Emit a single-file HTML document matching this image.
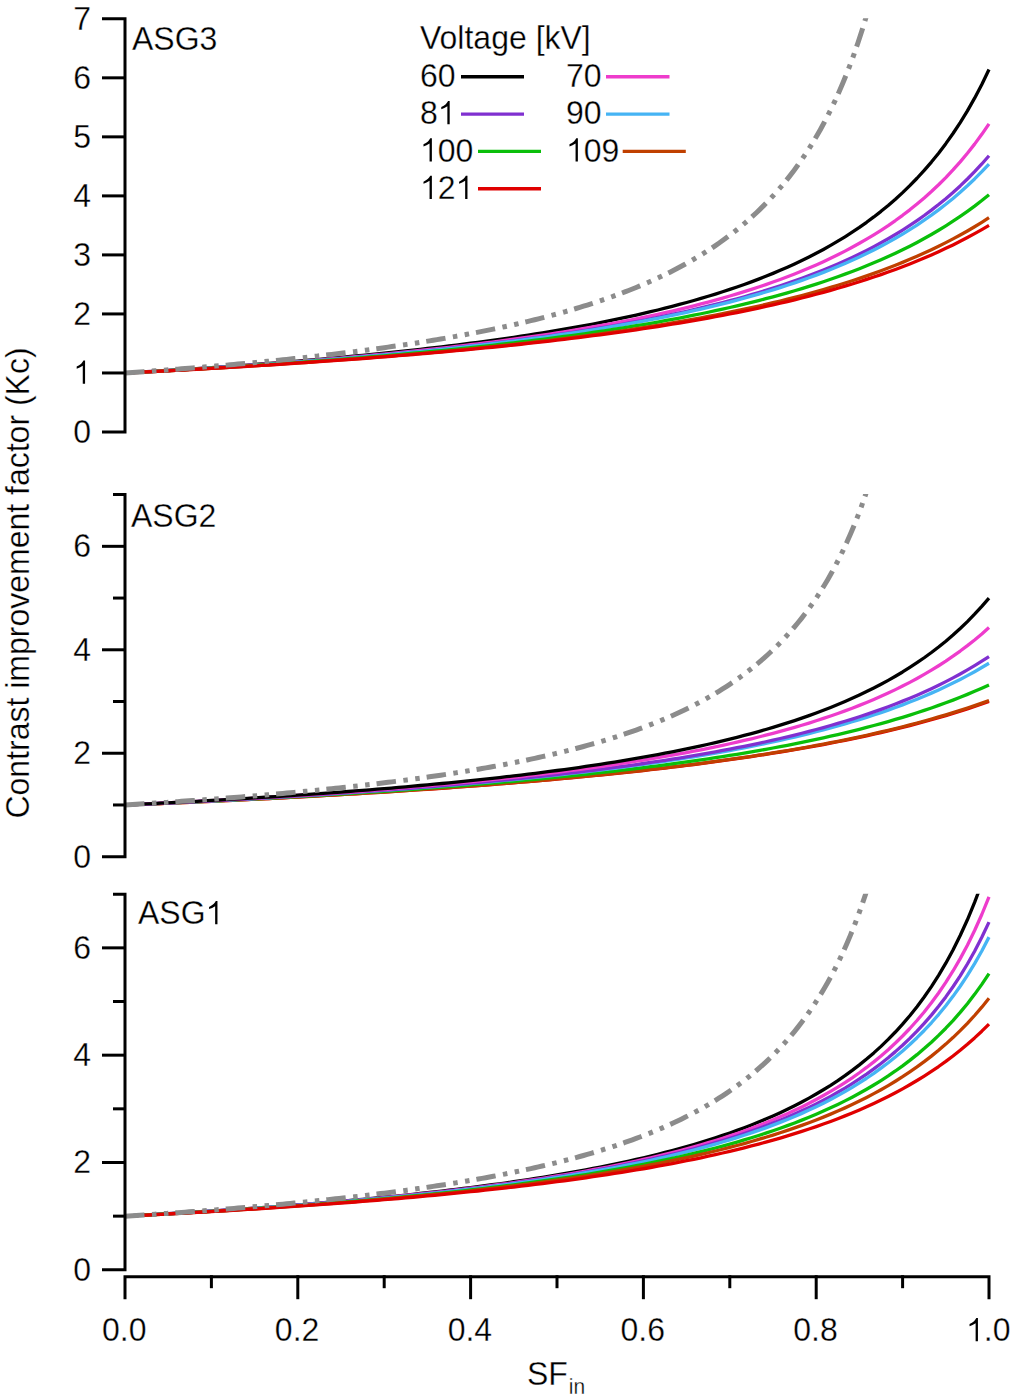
<!DOCTYPE html><html><head><meta charset="utf-8"><style>html,body{margin:0;padding:0;background:#fff;}svg{display:block;}text{font-family:"Liberation Sans",sans-serif;fill:#000;stroke:#fff;stroke-width:0.3px;}</style></head><body>
<svg width="1015" height="1397" viewBox="0 0 1015 1397">
<rect x="0" y="0" width="1015" height="1397" fill="#fff"/>
<defs><clipPath id="c0"><rect x="125.0" y="18.30" width="867.0" height="453.20"/></clipPath><clipPath id="c1"><rect x="125.0" y="494.10" width="867.0" height="402.10"/></clipPath><clipPath id="c2"><rect x="125.0" y="893.70" width="867.0" height="415.60"/></clipPath></defs>
<g clip-path="url(#c0)" fill="none" stroke-linejoin="round">
<path d="M125.00,372.97 L132.20,372.56 L139.40,372.14 L146.60,371.71 L153.80,371.28 L161.00,370.84 L168.20,370.39 L175.40,369.94 L182.60,369.48 L189.80,369.02 L197.00,368.54 L204.20,368.07 L211.40,367.58 L218.60,367.08 L225.80,366.58 L233.00,366.07 L240.20,365.55 L247.40,365.03 L254.60,364.49 L261.80,363.95 L269.00,363.40 L276.20,362.84 L283.40,362.27 L290.60,361.69 L297.80,361.10 L305.00,360.50 L312.20,359.89 L319.40,359.27 L326.60,358.64 L333.80,358.00 L341.00,357.35 L348.20,356.68 L355.40,356.01 L362.60,355.32 L369.80,354.62 L377.00,353.90 L384.20,353.18 L391.40,352.43 L398.60,351.68 L405.80,350.91 L413.00,350.12 L420.20,349.32 L427.40,348.51 L434.60,347.68 L441.80,346.83 L449.00,345.96 L456.20,345.08 L463.40,344.18 L470.60,343.25 L477.80,342.31 L485.00,341.35 L492.20,340.37 L499.40,339.37 L506.60,338.34 L513.80,337.30 L521.00,336.22 L528.20,335.13 L535.40,334.00 L542.60,332.86 L549.80,331.68 L557.00,330.48 L564.20,329.24 L571.40,327.98 L578.60,326.69 L585.80,325.36 L593.00,324.00 L600.20,322.60 L607.40,321.17 L614.60,319.70 L621.80,318.19 L629.00,316.64 L636.20,315.04 L643.40,313.40 L650.60,311.72 L657.80,309.98 L665.00,308.20 L672.20,306.36 L679.40,304.46 L686.60,302.51 L693.80,300.50 L701.00,298.42 L708.20,296.28 L715.40,294.07 L722.60,291.78 L729.80,289.42 L737.00,286.98 L744.20,284.45 L751.40,281.83 L758.60,279.12 L765.80,276.30 L773.00,273.38 L780.20,270.35 L787.40,267.21 L794.60,263.93 L801.80,260.53 L809.00,256.98 L816.20,253.28 L823.40,249.43 L830.60,245.40 L837.80,241.19 L845.00,236.79 L852.20,232.18 L859.40,227.35 L866.60,222.28 L873.80,216.95 L881.00,211.34 L888.20,205.43 L895.40,199.20 L902.60,192.61 L909.80,185.64 L917.00,178.25 L924.20,170.41 L931.40,162.06 L938.60,153.17 L945.80,143.67 L953.00,133.49 L960.20,122.58 L967.40,110.83 L974.60,98.16 L981.80,84.45 L989.00,69.56" stroke="#000000" stroke-width="3.3"/>
<path d="M125.00,372.97 L132.20,372.57 L139.40,372.17 L146.60,371.75 L153.80,371.34 L161.00,370.91 L168.20,370.48 L175.40,370.05 L182.60,369.61 L189.80,369.16 L197.00,368.71 L204.20,368.25 L211.40,367.78 L218.60,367.31 L225.80,366.82 L233.00,366.34 L240.20,365.84 L247.40,365.34 L254.60,364.83 L261.80,364.31 L269.00,363.78 L276.20,363.24 L283.40,362.70 L290.60,362.15 L297.80,361.59 L305.00,361.02 L312.20,360.44 L319.40,359.85 L326.60,359.25 L333.80,358.64 L341.00,358.02 L348.20,357.39 L355.40,356.75 L362.60,356.10 L369.80,355.43 L377.00,354.76 L384.20,354.07 L391.40,353.37 L398.60,352.66 L405.80,351.94 L413.00,351.20 L420.20,350.44 L427.40,349.68 L434.60,348.90 L441.80,348.10 L449.00,347.29 L456.20,346.46 L463.40,345.62 L470.60,344.76 L477.80,343.88 L485.00,342.99 L492.20,342.07 L499.40,341.14 L506.60,340.19 L513.80,339.22 L521.00,338.22 L528.20,337.21 L535.40,336.17 L542.60,335.11 L549.80,334.03 L557.00,332.92 L564.20,331.79 L571.40,330.63 L578.60,329.44 L585.80,328.23 L593.00,326.99 L600.20,325.71 L607.40,324.41 L614.60,323.07 L621.80,321.70 L629.00,320.29 L636.20,318.85 L643.40,317.37 L650.60,315.85 L657.80,314.29 L665.00,312.69 L672.20,311.04 L679.40,309.35 L686.60,307.60 L693.80,305.81 L701.00,303.97 L708.20,302.07 L715.40,300.11 L722.60,298.10 L729.80,296.02 L737.00,293.88 L744.20,291.66 L751.40,289.38 L758.60,287.02 L765.80,284.58 L773.00,282.06 L780.20,279.45 L787.40,276.75 L794.60,273.94 L801.80,271.04 L809.00,268.03 L816.20,264.90 L823.40,261.65 L830.60,258.28 L837.80,254.76 L845.00,251.10 L852.20,247.29 L859.40,243.31 L866.60,239.16 L873.80,234.82 L881.00,230.28 L888.20,225.53 L895.40,220.54 L902.60,215.31 L909.80,209.82 L917.00,204.04 L924.20,197.95 L931.40,191.52 L938.60,184.74 L945.80,177.56 L953.00,169.95 L960.20,161.87 L967.40,153.28 L974.60,144.12 L981.80,134.34 L989.00,123.87" stroke="#ee3ccc" stroke-width="3.3"/>
<path d="M125.00,372.97 L132.20,372.58 L139.40,372.19 L146.60,371.79 L153.80,371.38 L161.00,370.97 L168.20,370.56 L175.40,370.13 L182.60,369.71 L189.80,369.27 L197.00,368.83 L204.20,368.39 L211.40,367.93 L218.60,367.47 L225.80,367.01 L233.00,366.54 L240.20,366.06 L247.40,365.57 L254.60,365.08 L261.80,364.58 L269.00,364.07 L276.20,363.55 L283.40,363.03 L290.60,362.50 L297.80,361.96 L305.00,361.41 L312.20,360.85 L319.40,360.28 L326.60,359.71 L333.80,359.12 L341.00,358.53 L348.20,357.92 L355.40,357.31 L362.60,356.69 L369.80,356.05 L377.00,355.40 L384.20,354.75 L391.40,354.08 L398.60,353.40 L405.80,352.71 L413.00,352.00 L420.20,351.29 L427.40,350.56 L434.60,349.81 L441.80,349.06 L449.00,348.29 L456.20,347.50 L463.40,346.70 L470.60,345.89 L477.80,345.05 L485.00,344.21 L492.20,343.34 L499.40,342.46 L506.60,341.56 L513.80,340.65 L521.00,339.71 L528.20,338.76 L535.40,337.78 L542.60,336.78 L549.80,335.77 L557.00,334.73 L564.20,333.67 L571.40,332.58 L578.60,331.47 L585.80,330.34 L593.00,329.18 L600.20,327.99 L607.40,326.77 L614.60,325.53 L621.80,324.26 L629.00,322.95 L636.20,321.62 L643.40,320.25 L650.60,318.84 L657.80,317.40 L665.00,315.93 L672.20,314.41 L679.40,312.86 L686.60,311.26 L693.80,309.62 L701.00,307.93 L708.20,306.20 L715.40,304.42 L722.60,302.59 L729.80,300.70 L737.00,298.76 L744.20,296.76 L751.40,294.70 L758.60,292.57 L765.80,290.38 L773.00,288.12 L780.20,285.78 L787.40,283.37 L794.60,280.88 L801.80,278.30 L809.00,275.63 L816.20,272.87 L823.40,270.01 L830.60,267.04 L837.80,263.96 L845.00,260.77 L852.20,257.45 L859.40,254.00 L866.60,250.41 L873.80,246.68 L881.00,242.79 L888.20,238.73 L895.40,234.49 L902.60,230.06 L909.80,225.43 L917.00,220.58 L924.20,215.50 L931.40,210.17 L938.60,204.57 L945.80,198.68 L953.00,192.47 L960.20,185.93 L967.40,179.02 L974.60,171.71 L981.80,163.97 L989.00,155.75" stroke="#8030d0" stroke-width="3.3"/>
<path d="M125.00,372.97 L132.20,372.59 L139.40,372.19 L146.60,371.80 L153.80,371.40 L161.00,370.99 L168.20,370.58 L175.40,370.16 L182.60,369.73 L189.80,369.31 L197.00,368.87 L204.20,368.43 L211.40,367.98 L218.60,367.53 L225.80,367.06 L233.00,366.60 L240.20,366.12 L247.40,365.64 L254.60,365.15 L261.80,364.66 L269.00,364.15 L276.20,363.64 L283.40,363.13 L290.60,362.60 L297.80,362.07 L305.00,361.52 L312.20,360.97 L319.40,360.41 L326.60,359.84 L333.80,359.27 L341.00,358.68 L348.20,358.08 L355.40,357.48 L362.60,356.86 L369.80,356.23 L377.00,355.60 L384.20,354.95 L391.40,354.29 L398.60,353.62 L405.80,352.94 L413.00,352.24 L420.20,351.53 L427.40,350.82 L434.60,350.08 L441.80,349.34 L449.00,348.58 L456.20,347.81 L463.40,347.02 L470.60,346.22 L477.80,345.40 L485.00,344.56 L492.20,343.71 L499.40,342.85 L506.60,341.96 L513.80,341.06 L521.00,340.14 L528.20,339.21 L535.40,338.25 L542.60,337.27 L549.80,336.27 L557.00,335.25 L564.20,334.21 L571.40,333.15 L578.60,332.06 L585.80,330.95 L593.00,329.81 L600.20,328.65 L607.40,327.46 L614.60,326.24 L621.80,325.00 L629.00,323.72 L636.20,322.42 L643.40,321.08 L650.60,319.71 L657.80,318.30 L665.00,316.86 L672.20,315.38 L679.40,313.86 L686.60,312.31 L693.80,310.71 L701.00,309.07 L708.20,307.38 L715.40,305.65 L722.60,303.87 L729.80,302.03 L737.00,300.15 L744.20,298.21 L751.40,296.21 L758.60,294.15 L765.80,292.02 L773.00,289.83 L780.20,287.57 L787.40,285.24 L794.60,282.83 L801.80,280.34 L809.00,277.76 L816.20,275.10 L823.40,272.34 L830.60,269.48 L837.80,266.52 L845.00,263.45 L852.20,260.27 L859.40,256.96 L866.60,253.52 L873.80,249.94 L881.00,246.22 L888.20,242.34 L895.40,238.30 L902.60,234.08 L909.80,229.67 L917.00,225.06 L924.20,220.23 L931.40,215.18 L938.60,209.88 L945.80,204.31 L953.00,198.46 L960.20,192.30 L967.40,185.80 L974.60,178.94 L981.80,171.69 L989.00,164.01" stroke="#46b4f4" stroke-width="3.3"/>
<path d="M125.00,372.97 L132.20,372.60 L139.40,372.22 L146.60,371.84 L153.80,371.46 L161.00,371.06 L168.20,370.67 L175.40,370.27 L182.60,369.86 L189.80,369.45 L197.00,369.03 L204.20,368.61 L211.40,368.18 L218.60,367.74 L225.80,367.30 L233.00,366.85 L240.20,366.40 L247.40,365.94 L254.60,365.47 L261.80,365.00 L269.00,364.52 L276.20,364.04 L283.40,363.54 L290.60,363.04 L297.80,362.53 L305.00,362.02 L312.20,361.50 L319.40,360.96 L326.60,360.43 L333.80,359.88 L341.00,359.32 L348.20,358.76 L355.40,358.18 L362.60,357.60 L369.80,357.01 L377.00,356.41 L384.20,355.80 L391.40,355.18 L398.60,354.55 L405.80,353.90 L413.00,353.25 L420.20,352.59 L427.40,351.91 L434.60,351.23 L441.80,350.53 L449.00,349.82 L456.20,349.10 L463.40,348.36 L470.60,347.61 L477.80,346.85 L485.00,346.08 L492.20,345.29 L499.40,344.48 L506.60,343.66 L513.80,342.82 L521.00,341.97 L528.20,341.11 L535.40,340.22 L542.60,339.32 L549.80,338.40 L557.00,337.46 L564.20,336.50 L571.40,335.53 L578.60,334.53 L585.80,333.51 L593.00,332.47 L600.20,331.41 L607.40,330.32 L614.60,329.22 L621.80,328.08 L629.00,326.92 L636.20,325.74 L643.40,324.53 L650.60,323.29 L657.80,322.02 L665.00,320.72 L672.20,319.40 L679.40,318.03 L686.60,316.64 L693.80,315.21 L701.00,313.75 L708.20,312.24 L715.40,310.70 L722.60,309.12 L729.80,307.50 L737.00,305.84 L744.20,304.12 L751.40,302.37 L758.60,300.56 L765.80,298.70 L773.00,296.79 L780.20,294.82 L787.40,292.80 L794.60,290.71 L801.80,288.56 L809.00,286.35 L816.20,284.06 L823.40,281.70 L830.60,279.27 L837.80,276.75 L845.00,274.15 L852.20,271.47 L859.40,268.69 L866.60,265.81 L873.80,262.83 L881.00,259.74 L888.20,256.53 L895.40,253.20 L902.60,249.75 L909.80,246.15 L917.00,242.42 L924.20,238.53 L931.40,234.47 L938.60,230.25 L945.80,225.84 L953.00,221.23 L960.20,216.41 L967.40,211.36 L974.60,206.08 L981.80,200.53 L989.00,194.71" stroke="#0abf0a" stroke-width="3.3"/>
<path d="M125.00,372.97 L132.20,372.61 L139.40,372.25 L146.60,371.88 L153.80,371.51 L161.00,371.13 L168.20,370.75 L175.40,370.37 L182.60,369.98 L189.80,369.58 L197.00,369.18 L204.20,368.77 L211.40,368.36 L218.60,367.94 L225.80,367.52 L233.00,367.09 L240.20,366.66 L247.40,366.22 L254.60,365.77 L261.80,365.32 L269.00,364.86 L276.20,364.40 L283.40,363.93 L290.60,363.45 L297.80,362.97 L305.00,362.48 L312.20,361.98 L319.40,361.47 L326.60,360.96 L333.80,360.44 L341.00,359.91 L348.20,359.38 L355.40,358.84 L362.60,358.28 L369.80,357.72 L377.00,357.16 L384.20,356.58 L391.40,355.99 L398.60,355.40 L405.80,354.79 L413.00,354.18 L420.20,353.55 L427.40,352.92 L434.60,352.27 L441.80,351.62 L449.00,350.95 L456.20,350.27 L463.40,349.58 L470.60,348.88 L477.80,348.17 L485.00,347.45 L492.20,346.71 L499.40,345.96 L506.60,345.19 L513.80,344.42 L521.00,343.62 L528.20,342.82 L535.40,342.00 L542.60,341.16 L549.80,340.31 L557.00,339.44 L564.20,338.56 L571.40,337.65 L578.60,336.74 L585.80,335.80 L593.00,334.84 L600.20,333.87 L607.40,332.87 L614.60,331.86 L621.80,330.82 L629.00,329.76 L636.20,328.68 L643.40,327.58 L650.60,326.45 L657.80,325.30 L665.00,324.12 L672.20,322.92 L679.40,321.69 L686.60,320.43 L693.80,319.14 L701.00,317.82 L708.20,316.47 L715.40,315.09 L722.60,313.68 L729.80,312.23 L737.00,310.74 L744.20,309.22 L751.40,307.66 L758.60,306.06 L765.80,304.41 L773.00,302.72 L780.20,300.99 L787.40,299.21 L794.60,297.38 L801.80,295.51 L809.00,293.57 L816.20,291.58 L823.40,289.54 L830.60,287.43 L837.80,285.26 L845.00,283.03 L852.20,280.72 L859.40,278.34 L866.60,275.89 L873.80,273.36 L881.00,270.74 L888.20,268.04 L895.40,265.24 L902.60,262.35 L909.80,259.35 L917.00,256.25 L924.20,253.03 L931.40,249.69 L938.60,246.23 L945.80,242.63 L953.00,238.89 L960.20,235.00 L967.40,230.95 L974.60,226.72 L981.80,222.32 L989.00,217.73" stroke="#c04000" stroke-width="3.3"/>
<path d="M125.00,372.97 L132.20,372.62 L139.40,372.26 L146.60,371.90 L153.80,371.53 L161.00,371.16 L168.20,370.79 L175.40,370.40 L182.60,370.02 L189.80,369.63 L197.00,369.24 L204.20,368.84 L211.40,368.43 L218.60,368.02 L225.80,367.61 L233.00,367.18 L240.20,366.76 L247.40,366.33 L254.60,365.89 L261.80,365.44 L269.00,364.99 L276.20,364.54 L283.40,364.08 L290.60,363.61 L297.80,363.13 L305.00,362.65 L312.20,362.16 L319.40,361.67 L326.60,361.17 L333.80,360.66 L341.00,360.14 L348.20,359.61 L355.40,359.08 L362.60,358.54 L369.80,357.99 L377.00,357.44 L384.20,356.87 L391.40,356.30 L398.60,355.72 L405.80,355.13 L413.00,354.52 L420.20,353.91 L427.40,353.30 L434.60,352.67 L441.80,352.03 L449.00,351.38 L456.20,350.71 L463.40,350.04 L470.60,349.36 L477.80,348.67 L485.00,347.96 L492.20,347.24 L499.40,346.51 L506.60,345.77 L513.80,345.01 L521.00,344.24 L528.20,343.46 L535.40,342.66 L542.60,341.85 L549.80,341.02 L557.00,340.18 L564.20,339.32 L571.40,338.45 L578.60,337.55 L585.80,336.65 L593.00,335.72 L600.20,334.78 L607.40,333.81 L614.60,332.83 L621.80,331.83 L629.00,330.81 L636.20,329.76 L643.40,328.70 L650.60,327.61 L657.80,326.50 L665.00,325.37 L672.20,324.21 L679.40,323.02 L686.60,321.81 L693.80,320.58 L701.00,319.31 L708.20,318.01 L715.40,316.69 L722.60,315.33 L729.80,313.94 L737.00,312.52 L744.20,311.06 L751.40,309.57 L758.60,308.04 L765.80,306.47 L773.00,304.86 L780.20,303.21 L787.40,301.52 L794.60,299.78 L801.80,297.99 L809.00,296.15 L816.20,294.27 L823.40,292.33 L830.60,290.33 L837.80,288.28 L845.00,286.16 L852.20,283.99 L859.40,281.75 L866.60,279.43 L873.80,277.05 L881.00,274.59 L888.20,272.05 L895.40,269.43 L902.60,266.72 L909.80,263.92 L917.00,261.02 L924.20,258.02 L931.40,254.91 L938.60,251.69 L945.80,248.36 L953.00,244.89 L960.20,241.29 L967.40,237.55 L974.60,233.66 L981.80,229.62 L989.00,225.40" stroke="#e00000" stroke-width="3.3"/>
<path d="M125.00,372.97 L128.76,372.71 L132.52,372.45 L136.28,372.19 L140.03,371.93 L143.79,371.66 L147.55,371.39 L151.31,371.12 L155.07,370.84 L158.83,370.57 L162.58,370.29 L166.34,370.00 L170.10,369.72 L173.86,369.43 L177.62,369.14 L181.38,368.85 L185.13,368.56 L188.89,368.26 L192.65,367.96 L196.41,367.65 L200.17,367.35 L203.93,367.04 L207.68,366.72 L211.44,366.41 L215.20,366.09 L218.96,365.77 L222.72,365.44 L226.48,365.12 L230.24,364.78 L233.99,364.45 L237.75,364.11 L241.51,363.77 L245.27,363.43 L249.03,363.08 L252.79,362.73 L256.54,362.37 L260.30,362.01 L264.06,361.65 L267.82,361.28 L271.58,360.91 L275.34,360.54 L279.09,360.16 L282.85,359.78 L286.61,359.39 L290.37,359.00 L294.13,358.60 L297.89,358.21 L301.64,357.80 L305.40,357.39 L309.16,356.98 L312.92,356.56 L316.68,356.14 L320.44,355.72 L324.20,355.28 L327.95,354.85 L331.71,354.41 L335.47,353.96 L339.23,353.51 L342.99,353.05 L346.75,352.59 L350.50,352.12 L354.26,351.65 L358.02,351.17 L361.78,350.69 L365.54,350.20 L369.30,349.70 L373.05,349.20 L376.81,348.69 L380.57,348.18 L384.33,347.66 L388.09,347.13 L391.85,346.59 L395.60,346.05 L399.36,345.50 L403.12,344.95 L406.88,344.39 L410.64,343.82 L414.40,343.24 L418.16,342.66 L421.91,342.07 L425.67,341.47 L429.43,340.86 L433.19,340.24 L436.95,339.62 L440.71,338.98 L444.46,338.34 L448.22,337.69 L451.98,337.03 L455.74,336.36 L459.50,335.68 L463.26,334.99 L467.01,334.29 L470.77,333.59 L474.53,332.87 L478.29,332.14 L482.05,331.40 L485.81,330.65 L489.56,329.88 L493.32,329.11 L497.08,328.32 L500.84,327.52 L504.60,326.71 L508.36,325.89 L512.12,325.05 L515.87,324.20 L519.63,323.34 L523.39,322.46 L527.15,321.57 L530.91,320.67 L534.67,319.75 L538.42,318.81 L542.18,317.86 L545.94,316.89 L549.70,315.90 L553.46,314.90 L557.22,313.88 L560.97,312.85 L564.73,311.79 L568.49,310.72 L572.25,309.62 L576.01,308.51 L579.77,307.38 L583.52,306.22 L587.28,305.04 L591.04,303.84 L594.80,302.62 L598.56,301.38 L602.32,300.11 L606.08,298.81 L609.83,297.49 L613.59,296.15 L617.35,294.77 L621.11,293.37 L624.87,291.94 L628.63,290.48 L632.38,288.99 L636.14,287.46 L639.90,285.91 L643.66,284.32 L647.42,282.69 L651.18,281.03 L654.93,279.33 L658.69,277.60 L662.45,275.82 L666.21,274.00 L669.97,272.14 L673.73,270.23 L677.48,268.28 L681.24,266.28 L685.00,264.23 L688.76,262.13 L692.52,259.98 L696.28,257.77 L700.04,255.51 L703.79,253.18 L707.55,250.79 L711.31,248.34 L715.07,245.82 L718.83,243.23 L722.59,240.57 L726.34,237.83 L730.10,235.01 L733.86,232.11 L737.62,229.12 L741.38,226.04 L745.14,222.86 L748.89,219.59 L752.65,216.21 L756.41,212.73 L760.17,209.12 L763.93,205.40 L767.69,201.55 L771.44,197.57 L775.20,193.45 L778.96,189.18 L782.72,184.76 L786.48,180.17 L790.24,175.41 L794.00,170.46 L797.75,165.32 L801.51,159.98 L805.27,154.41 L809.03,148.62 L812.79,142.57 L816.55,136.27 L820.30,129.68 L824.06,122.79 L827.82,115.58 L831.58,108.02 L835.34,100.10 L839.10,91.78 L842.85,83.03 L846.61,73.82 L850.37,64.11 L854.13,53.85 L857.89,43.01 L861.65,31.53 L865.40,19.36 L869.16,6.42 L872.92,-7.36" stroke="#8c8c8c" stroke-width="5" stroke-dasharray="19.5 7.5 4.5 7.5 4.5 7"/>
</g>
<g stroke="#000" stroke-width="3" fill="none" stroke-linecap="butt">
<path d="M102,18.80H125.0V432.00H102" stroke-linejoin="miter"/>
<line x1="102" y1="372.97" x2="125.0" y2="372.97"/>
<line x1="102" y1="313.94" x2="125.0" y2="313.94"/>
<line x1="102" y1="254.91" x2="125.0" y2="254.91"/>
<line x1="102" y1="195.89" x2="125.0" y2="195.89"/>
<line x1="102" y1="136.86" x2="125.0" y2="136.86"/>
<line x1="102" y1="77.83" x2="125.0" y2="77.83"/>
</g>
<text transform="translate(91.00,442.85) scale(1,1.041)" font-size="32" text-anchor="end">0</text>
<text transform="translate(91.00,383.82) scale(1,1.041)" font-size="32" text-anchor="end"> </text><path transform="translate(73.20,383.82) scale(0.015625,-0.016266)" d="M760 0L612 0L612 1110Q420 995 223 928L223 1060Q390 1132 510 1240Q610 1340 655 1430L760 1430Z" fill="#000"/>
<text transform="translate(91.00,324.79) scale(1,1.041)" font-size="32" text-anchor="end">2</text>
<text transform="translate(91.00,265.76) scale(1,1.041)" font-size="32" text-anchor="end">3</text>
<text transform="translate(91.00,206.74) scale(1,1.041)" font-size="32" text-anchor="end">4</text>
<text transform="translate(91.00,147.71) scale(1,1.041)" font-size="32" text-anchor="end">5</text>
<text transform="translate(91.00,88.68) scale(1,1.041)" font-size="32" text-anchor="end">6</text>
<text transform="translate(91.00,29.65) scale(1,1.041)" font-size="32" text-anchor="end">7</text>
<text transform="translate(132.00,49.65) scale(1,1.041)" font-size="32">ASG3</text>
<g clip-path="url(#c1)" fill="none" stroke-linejoin="round">
<path d="M125.00,804.97 L132.20,804.68 L139.40,804.39 L146.60,804.09 L153.80,803.80 L161.00,803.49 L168.20,803.19 L175.40,802.88 L182.60,802.57 L189.80,802.25 L197.00,801.93 L204.20,801.60 L211.40,801.28 L218.60,800.94 L225.80,800.61 L233.00,800.27 L240.20,799.92 L247.40,799.58 L254.60,799.22 L261.80,798.87 L269.00,798.51 L276.20,798.14 L283.40,797.77 L290.60,797.39 L297.80,797.01 L305.00,796.63 L312.20,796.24 L319.40,795.84 L326.60,795.44 L333.80,795.04 L341.00,794.63 L348.20,794.21 L355.40,793.79 L362.60,793.36 L369.80,792.93 L377.00,792.49 L384.20,792.04 L391.40,791.59 L398.60,791.13 L405.80,790.66 L413.00,790.19 L420.20,789.71 L427.40,789.23 L434.60,788.74 L441.80,788.24 L449.00,787.73 L456.20,787.21 L463.40,786.69 L470.60,786.16 L477.80,785.62 L485.00,785.08 L492.20,784.52 L499.40,783.96 L506.60,783.38 L513.80,782.80 L521.00,782.21 L528.20,781.61 L535.40,781.00 L542.60,780.38 L549.80,779.75 L557.00,779.11 L564.20,778.46 L571.40,777.79 L578.60,777.12 L585.80,776.43 L593.00,775.73 L600.20,775.02 L607.40,774.30 L614.60,773.56 L621.80,772.82 L629.00,772.05 L636.20,771.28 L643.40,770.49 L650.60,769.68 L657.80,768.86 L665.00,768.02 L672.20,767.17 L679.40,766.30 L686.60,765.41 L693.80,764.51 L701.00,763.59 L708.20,762.65 L715.40,761.69 L722.60,760.71 L729.80,759.71 L737.00,758.69 L744.20,757.65 L751.40,756.58 L758.60,755.49 L765.80,754.38 L773.00,753.24 L780.20,752.08 L787.40,750.89 L794.60,749.68 L801.80,748.43 L809.00,747.16 L816.20,745.85 L823.40,744.52 L830.60,743.15 L837.80,741.75 L845.00,740.31 L852.20,738.84 L859.40,737.33 L866.60,735.78 L873.80,734.18 L881.00,732.55 L888.20,730.87 L895.40,729.15 L902.60,727.38 L909.80,725.56 L917.00,723.68 L924.20,721.76 L931.40,719.77 L938.60,717.73 L945.80,715.62 L953.00,713.45 L960.20,711.21 L967.40,708.90 L974.60,706.52 L981.80,704.06 L989.00,701.51" stroke="#e00000" stroke-width="3.3"/>
<path d="M125.00,804.97 L132.20,804.68 L139.40,804.39 L146.60,804.09 L153.80,803.79 L161.00,803.49 L168.20,803.18 L175.40,802.87 L182.60,802.56 L189.80,802.24 L197.00,801.92 L204.20,801.59 L211.40,801.26 L218.60,800.93 L225.80,800.59 L233.00,800.25 L240.20,799.91 L247.40,799.56 L254.60,799.20 L261.80,798.84 L269.00,798.48 L276.20,798.11 L283.40,797.74 L290.60,797.36 L297.80,796.98 L305.00,796.60 L312.20,796.20 L319.40,795.81 L326.60,795.41 L333.80,795.00 L341.00,794.58 L348.20,794.17 L355.40,793.74 L362.60,793.31 L369.80,792.88 L377.00,792.43 L384.20,791.99 L391.40,791.53 L398.60,791.07 L405.80,790.60 L413.00,790.13 L420.20,789.65 L427.40,789.16 L434.60,788.66 L441.80,788.16 L449.00,787.65 L456.20,787.13 L463.40,786.61 L470.60,786.08 L477.80,785.53 L485.00,784.98 L492.20,784.43 L499.40,783.86 L506.60,783.28 L513.80,782.70 L521.00,782.10 L528.20,781.50 L535.40,780.88 L542.60,780.26 L549.80,779.62 L557.00,778.98 L564.20,778.32 L571.40,777.65 L578.60,776.98 L585.80,776.28 L593.00,775.58 L600.20,774.87 L607.40,774.14 L614.60,773.40 L621.80,772.64 L629.00,771.87 L636.20,771.09 L643.40,770.29 L650.60,769.48 L657.80,768.66 L665.00,767.81 L672.20,766.95 L679.40,766.08 L686.60,765.18 L693.80,764.27 L701.00,763.34 L708.20,762.39 L715.40,761.42 L722.60,760.44 L729.80,759.43 L737.00,758.40 L744.20,757.34 L751.40,756.27 L758.60,755.17 L765.80,754.05 L773.00,752.90 L780.20,751.73 L787.40,750.52 L794.60,749.30 L801.80,748.04 L809.00,746.75 L816.20,745.43 L823.40,744.08 L830.60,742.70 L837.80,741.28 L845.00,739.83 L852.20,738.34 L859.40,736.81 L866.60,735.24 L873.80,733.63 L881.00,731.97 L888.20,730.27 L895.40,728.53 L902.60,726.73 L909.80,724.89 L917.00,722.99 L924.20,721.03 L931.40,719.02 L938.60,716.95 L945.80,714.81 L953.00,712.61 L960.20,710.33 L967.40,707.99 L974.60,705.57 L981.80,703.07 L989.00,700.48" stroke="#c04000" stroke-width="3.3"/>
<path d="M125.00,804.97 L132.20,804.67 L139.40,804.36 L146.60,804.05 L153.80,803.74 L161.00,803.42 L168.20,803.10 L175.40,802.77 L182.60,802.44 L189.80,802.11 L197.00,801.77 L204.20,801.43 L211.40,801.09 L218.60,800.73 L225.80,800.38 L233.00,800.02 L240.20,799.66 L247.40,799.29 L254.60,798.91 L261.80,798.54 L269.00,798.15 L276.20,797.76 L283.40,797.37 L290.60,796.97 L297.80,796.57 L305.00,796.16 L312.20,795.74 L319.40,795.32 L326.60,794.89 L333.80,794.46 L341.00,794.02 L348.20,793.58 L355.40,793.12 L362.60,792.67 L369.80,792.20 L377.00,791.73 L384.20,791.25 L391.40,790.76 L398.60,790.27 L405.80,789.77 L413.00,789.26 L420.20,788.75 L427.40,788.22 L434.60,787.69 L441.80,787.15 L449.00,786.60 L456.20,786.04 L463.40,785.48 L470.60,784.90 L477.80,784.32 L485.00,783.72 L492.20,783.12 L499.40,782.50 L506.60,781.88 L513.80,781.24 L521.00,780.60 L528.20,779.94 L535.40,779.27 L542.60,778.59 L549.80,777.90 L557.00,777.19 L564.20,776.47 L571.40,775.74 L578.60,775.00 L585.80,774.24 L593.00,773.47 L600.20,772.68 L607.40,771.88 L614.60,771.06 L621.80,770.23 L629.00,769.38 L636.20,768.51 L643.40,767.62 L650.60,766.72 L657.80,765.80 L665.00,764.86 L672.20,763.90 L679.40,762.92 L686.60,761.92 L693.80,760.90 L701.00,759.85 L708.20,758.79 L715.40,757.70 L722.60,756.58 L729.80,755.44 L737.00,754.27 L744.20,753.08 L751.40,751.85 L758.60,750.60 L765.80,749.32 L773.00,748.00 L780.20,746.66 L787.40,745.28 L794.60,743.86 L801.80,742.41 L809.00,740.92 L816.20,739.39 L823.40,737.82 L830.60,736.21 L837.80,734.55 L845.00,732.85 L852.20,731.10 L859.40,729.30 L866.60,727.44 L873.80,725.53 L881.00,723.57 L888.20,721.54 L895.40,719.46 L902.60,717.30 L909.80,715.08 L917.00,712.78 L924.20,710.41 L931.40,707.97 L938.60,705.43 L945.80,702.81 L953.00,700.10 L960.20,697.29 L967.40,694.38 L974.60,691.35 L981.80,688.22 L989.00,684.96" stroke="#0abf0a" stroke-width="3.3"/>
<path d="M125.00,804.97 L132.20,804.65 L139.40,804.33 L146.60,804.01 L153.80,803.68 L161.00,803.34 L168.20,803.00 L175.40,802.66 L182.60,802.32 L189.80,801.96 L197.00,801.61 L204.20,801.25 L211.40,800.88 L218.60,800.51 L225.80,800.14 L233.00,799.76 L240.20,799.37 L247.40,798.98 L254.60,798.58 L261.80,798.18 L269.00,797.78 L276.20,797.36 L283.40,796.95 L290.60,796.52 L297.80,796.09 L305.00,795.65 L312.20,795.21 L319.40,794.76 L326.60,794.31 L333.80,793.84 L341.00,793.37 L348.20,792.90 L355.40,792.41 L362.60,791.92 L369.80,791.42 L377.00,790.91 L384.20,790.40 L391.40,789.88 L398.60,789.35 L405.80,788.81 L413.00,788.26 L420.20,787.70 L427.40,787.13 L434.60,786.56 L441.80,785.97 L449.00,785.38 L456.20,784.77 L463.40,784.16 L470.60,783.53 L477.80,782.89 L485.00,782.24 L492.20,781.58 L499.40,780.91 L506.60,780.23 L513.80,779.53 L521.00,778.82 L528.20,778.10 L535.40,777.36 L542.60,776.61 L549.80,775.85 L557.00,775.07 L564.20,774.28 L571.40,773.47 L578.60,772.64 L585.80,771.80 L593.00,770.94 L600.20,770.06 L607.40,769.17 L614.60,768.25 L621.80,767.32 L629.00,766.37 L636.20,765.39 L643.40,764.40 L650.60,763.38 L657.80,762.34 L665.00,761.28 L672.20,760.19 L679.40,759.08 L686.60,757.94 L693.80,756.78 L701.00,755.59 L708.20,754.36 L715.40,753.11 L722.60,751.83 L729.80,750.52 L737.00,749.17 L744.20,747.79 L751.40,746.37 L758.60,744.91 L765.80,743.42 L773.00,741.88 L780.20,740.31 L787.40,738.69 L794.60,737.02 L801.80,735.30 L809.00,733.54 L816.20,731.72 L823.40,729.85 L830.60,727.92 L837.80,725.94 L845.00,723.89 L852.20,721.77 L859.40,719.59 L866.60,717.33 L873.80,715.00 L881.00,712.59 L888.20,710.10 L895.40,707.52 L902.60,704.84 L909.80,702.07 L917.00,699.20 L924.20,696.21 L931.40,693.12 L938.60,689.90 L945.80,686.55 L953.00,683.06 L960.20,679.43 L967.40,675.64 L974.60,671.68 L981.80,667.55 L989.00,663.24" stroke="#46b4f4" stroke-width="3.3"/>
<path d="M125.00,804.97 L132.20,804.65 L139.40,804.32 L146.60,803.99 L153.80,803.66 L161.00,803.32 L168.20,802.98 L175.40,802.63 L182.60,802.28 L189.80,801.92 L197.00,801.56 L204.20,801.20 L211.40,800.83 L218.60,800.45 L225.80,800.07 L233.00,799.69 L240.20,799.30 L247.40,798.90 L254.60,798.50 L261.80,798.09 L269.00,797.68 L276.20,797.26 L283.40,796.83 L290.60,796.40 L297.80,795.96 L305.00,795.52 L312.20,795.07 L319.40,794.61 L326.60,794.15 L333.80,793.68 L341.00,793.20 L348.20,792.71 L355.40,792.22 L362.60,791.72 L369.80,791.21 L377.00,790.69 L384.20,790.17 L391.40,789.64 L398.60,789.10 L405.80,788.54 L413.00,787.99 L420.20,787.42 L427.40,786.84 L434.60,786.25 L441.80,785.65 L449.00,785.04 L456.20,784.43 L463.40,783.80 L470.60,783.15 L477.80,782.50 L485.00,781.84 L492.20,781.16 L499.40,780.48 L506.60,779.78 L513.80,779.06 L521.00,778.34 L528.20,777.59 L535.40,776.84 L542.60,776.07 L549.80,775.29 L557.00,774.49 L564.20,773.67 L571.40,772.84 L578.60,771.99 L585.80,771.12 L593.00,770.24 L600.20,769.34 L607.40,768.42 L614.60,767.48 L621.80,766.51 L629.00,765.53 L636.20,764.53 L643.40,763.50 L650.60,762.45 L657.80,761.38 L665.00,760.28 L672.20,759.16 L679.40,758.01 L686.60,756.83 L693.80,755.62 L701.00,754.39 L708.20,753.12 L715.40,751.82 L722.60,750.49 L729.80,749.13 L737.00,747.73 L744.20,746.29 L751.40,744.82 L758.60,743.30 L765.80,741.74 L773.00,740.14 L780.20,738.50 L787.40,736.80 L794.60,735.06 L801.80,733.27 L809.00,731.42 L816.20,729.51 L823.40,727.55 L830.60,725.53 L837.80,723.44 L845.00,721.28 L852.20,719.06 L859.40,716.76 L866.60,714.38 L873.80,711.91 L881.00,709.37 L888.20,706.73 L895.40,703.99 L902.60,701.15 L909.80,698.21 L917.00,695.15 L924.20,691.97 L931.40,688.66 L938.60,685.22 L945.80,681.63 L953.00,677.89 L960.20,673.99 L967.40,669.91 L974.60,665.65 L981.80,661.19 L989.00,656.51" stroke="#8030d0" stroke-width="3.3"/>
<path d="M125.00,804.97 L132.20,804.64 L139.40,804.30 L146.60,803.95 L153.80,803.60 L161.00,803.25 L168.20,802.89 L175.40,802.52 L182.60,802.16 L189.80,801.78 L197.00,801.40 L204.20,801.02 L211.40,800.63 L218.60,800.24 L225.80,799.83 L233.00,799.43 L240.20,799.02 L247.40,798.60 L254.60,798.17 L261.80,797.74 L269.00,797.31 L276.20,796.86 L283.40,796.41 L290.60,795.96 L297.80,795.49 L305.00,795.02 L312.20,794.54 L319.40,794.06 L326.60,793.57 L333.80,793.06 L341.00,792.56 L348.20,792.04 L355.40,791.51 L362.60,790.98 L369.80,790.43 L377.00,789.88 L384.20,789.32 L391.40,788.75 L398.60,788.17 L405.80,787.58 L413.00,786.98 L420.20,786.36 L427.40,785.74 L434.60,785.11 L441.80,784.46 L449.00,783.81 L456.20,783.14 L463.40,782.46 L470.60,781.76 L477.80,781.06 L485.00,780.34 L492.20,779.60 L499.40,778.85 L506.60,778.09 L513.80,777.31 L521.00,776.52 L528.20,775.71 L535.40,774.88 L542.60,774.04 L549.80,773.18 L557.00,772.30 L564.20,771.40 L571.40,770.48 L578.60,769.54 L585.80,768.59 L593.00,767.61 L600.20,766.60 L607.40,765.58 L614.60,764.53 L621.80,763.46 L629.00,762.36 L636.20,761.24 L643.40,760.09 L650.60,758.91 L657.80,757.70 L665.00,756.47 L672.20,755.20 L679.40,753.90 L686.60,752.56 L693.80,751.19 L701.00,749.78 L708.20,748.34 L715.40,746.85 L722.60,745.33 L729.80,743.76 L737.00,742.15 L744.20,740.48 L751.40,738.78 L758.60,737.01 L765.80,735.20 L773.00,733.33 L780.20,731.40 L787.40,729.41 L794.60,727.36 L801.80,725.24 L809.00,723.05 L816.20,720.78 L823.40,718.44 L830.60,716.01 L837.80,713.50 L845.00,710.89 L852.20,708.19 L859.40,705.39 L866.60,702.48 L873.80,699.46 L881.00,696.31 L888.20,693.04 L895.40,689.62 L902.60,686.07 L909.80,682.36 L917.00,678.48 L924.20,674.43 L931.40,670.19 L938.60,665.75 L945.80,661.09 L953.00,656.20 L960.20,651.05 L967.40,645.64 L974.60,639.93 L981.80,633.91 L989.00,627.54" stroke="#ee3ccc" stroke-width="3.3"/>
<path d="M125.00,804.97 L132.20,804.62 L139.40,804.27 L146.60,803.92 L153.80,803.55 L161.00,803.19 L168.20,802.82 L175.40,802.44 L182.60,802.06 L189.80,801.67 L197.00,801.28 L204.20,800.88 L211.40,800.47 L218.60,800.06 L225.80,799.65 L233.00,799.22 L240.20,798.79 L247.40,798.36 L254.60,797.92 L261.80,797.47 L269.00,797.01 L276.20,796.55 L283.40,796.08 L290.60,795.60 L297.80,795.12 L305.00,794.63 L312.20,794.13 L319.40,793.62 L326.60,793.10 L333.80,792.57 L341.00,792.04 L348.20,791.50 L355.40,790.94 L362.60,790.38 L369.80,789.81 L377.00,789.23 L384.20,788.64 L391.40,788.03 L398.60,787.42 L405.80,786.80 L413.00,786.16 L420.20,785.51 L427.40,784.85 L434.60,784.18 L441.80,783.50 L449.00,782.80 L456.20,782.09 L463.40,781.37 L470.60,780.63 L477.80,779.88 L485.00,779.11 L492.20,778.32 L499.40,777.52 L506.60,776.71 L513.80,775.87 L521.00,775.02 L528.20,774.15 L535.40,773.27 L542.60,772.36 L549.80,771.43 L557.00,770.49 L564.20,769.52 L571.40,768.53 L578.60,767.51 L585.80,766.48 L593.00,765.41 L600.20,764.33 L607.40,763.21 L614.60,762.07 L621.80,760.91 L629.00,759.71 L636.20,758.48 L643.40,757.22 L650.60,755.93 L657.80,754.60 L665.00,753.24 L672.20,751.84 L679.40,750.41 L686.60,748.93 L693.80,747.41 L701.00,745.85 L708.20,744.25 L715.40,742.59 L722.60,740.89 L729.80,739.14 L737.00,737.33 L744.20,735.46 L751.40,733.54 L758.60,731.55 L765.80,729.50 L773.00,727.38 L780.20,725.19 L787.40,722.92 L794.60,720.57 L801.80,718.14 L809.00,715.62 L816.20,713.01 L823.40,710.30 L830.60,707.48 L837.80,704.56 L845.00,701.51 L852.20,698.35 L859.40,695.05 L866.60,691.61 L873.80,688.02 L881.00,684.27 L888.20,680.35 L895.40,676.25 L902.60,671.96 L909.80,667.45 L917.00,662.72 L924.20,657.74 L931.40,652.51 L938.60,646.99 L945.80,641.16 L953.00,635.01 L960.20,628.49 L967.40,621.57 L974.60,614.22 L981.80,606.40 L989.00,598.06" stroke="#000000" stroke-width="3.3"/>
<path d="M125.00,804.97 L128.76,804.75 L132.52,804.52 L136.28,804.29 L140.03,804.06 L143.79,803.82 L147.55,803.59 L151.31,803.35 L155.07,803.11 L158.83,802.86 L162.58,802.62 L166.34,802.37 L170.10,802.12 L173.86,801.87 L177.62,801.62 L181.38,801.36 L185.13,801.10 L188.89,800.84 L192.65,800.58 L196.41,800.31 L200.17,800.04 L203.93,799.77 L207.68,799.50 L211.44,799.22 L215.20,798.94 L218.96,798.66 L222.72,798.37 L226.48,798.09 L230.24,797.80 L233.99,797.50 L237.75,797.21 L241.51,796.91 L245.27,796.61 L249.03,796.30 L252.79,795.99 L256.54,795.68 L260.30,795.37 L264.06,795.05 L267.82,794.73 L271.58,794.40 L275.34,794.07 L279.09,793.74 L282.85,793.41 L286.61,793.07 L290.37,792.73 L294.13,792.38 L297.89,792.03 L301.64,791.68 L305.40,791.32 L309.16,790.96 L312.92,790.59 L316.68,790.22 L320.44,789.85 L324.20,789.47 L327.95,789.09 L331.71,788.70 L335.47,788.31 L339.23,787.92 L342.99,787.52 L346.75,787.11 L350.50,786.70 L354.26,786.29 L358.02,785.87 L361.78,785.44 L365.54,785.01 L369.30,784.58 L373.05,784.14 L376.81,783.69 L380.57,783.24 L384.33,782.79 L388.09,782.32 L391.85,781.86 L395.60,781.38 L399.36,780.90 L403.12,780.42 L406.88,779.92 L410.64,779.42 L414.40,778.92 L418.16,778.41 L421.91,777.89 L425.67,777.36 L429.43,776.83 L433.19,776.29 L436.95,775.74 L440.71,775.19 L444.46,774.62 L448.22,774.05 L451.98,773.47 L455.74,772.89 L459.50,772.29 L463.26,771.69 L467.01,771.08 L470.77,770.46 L474.53,769.83 L478.29,769.19 L482.05,768.54 L485.81,767.88 L489.56,767.21 L493.32,766.53 L497.08,765.84 L500.84,765.15 L504.60,764.43 L508.36,763.71 L512.12,762.98 L515.87,762.24 L519.63,761.48 L523.39,760.71 L527.15,759.93 L530.91,759.14 L534.67,758.33 L538.42,757.51 L542.18,756.67 L545.94,755.83 L549.70,754.96 L553.46,754.08 L557.22,753.19 L560.97,752.28 L564.73,751.36 L568.49,750.42 L572.25,749.46 L576.01,748.48 L579.77,747.49 L583.52,746.48 L587.28,745.44 L591.04,744.39 L594.80,743.32 L598.56,742.23 L602.32,741.12 L606.08,739.98 L609.83,738.83 L613.59,737.65 L617.35,736.44 L621.11,735.21 L624.87,733.96 L628.63,732.68 L632.38,731.37 L636.14,730.04 L639.90,728.67 L643.66,727.28 L647.42,725.86 L651.18,724.40 L654.93,722.91 L658.69,721.39 L662.45,719.83 L666.21,718.24 L669.97,716.61 L673.73,714.94 L677.48,713.23 L681.24,711.48 L685.00,709.68 L688.76,707.84 L692.52,705.95 L696.28,704.02 L700.04,702.03 L703.79,699.99 L707.55,697.90 L711.31,695.75 L715.07,693.54 L718.83,691.27 L722.59,688.94 L726.34,686.54 L730.10,684.07 L733.86,681.53 L737.62,678.91 L741.38,676.21 L745.14,673.43 L748.89,670.56 L752.65,667.60 L756.41,664.54 L760.17,661.39 L763.93,658.13 L767.69,654.75 L771.44,651.26 L775.20,647.65 L778.96,643.91 L782.72,640.04 L786.48,636.01 L790.24,631.84 L794.00,627.51 L797.75,623.00 L801.51,618.32 L805.27,613.44 L809.03,608.36 L812.79,603.07 L816.55,597.54 L820.30,591.76 L824.06,585.73 L827.82,579.41 L831.58,572.79 L835.34,565.84 L839.10,558.55 L842.85,550.89 L846.61,542.81 L850.37,534.30 L854.13,525.32 L857.89,515.82 L861.65,505.76 L865.40,495.09 L869.16,483.75 L872.92,471.67" stroke="#8c8c8c" stroke-width="5" stroke-dasharray="19.5 7.5 4.5 7.5 4.5 7"/>
</g>
<g stroke="#000" stroke-width="3" fill="none" stroke-linecap="butt">
<path d="M113,494.60H125.0V856.70H102" stroke-linejoin="miter"/>
<line x1="102" y1="753.24" x2="125.0" y2="753.24"/>
<line x1="102" y1="649.79" x2="125.0" y2="649.79"/>
<line x1="102" y1="546.33" x2="125.0" y2="546.33"/>
<line x1="113" y1="804.97" x2="125.0" y2="804.97"/>
<line x1="113" y1="701.51" x2="125.0" y2="701.51"/>
<line x1="113" y1="598.06" x2="125.0" y2="598.06"/>
</g>
<text transform="translate(91.00,867.55) scale(1,1.041)" font-size="32" text-anchor="end">0</text>
<text transform="translate(91.00,764.09) scale(1,1.041)" font-size="32" text-anchor="end">2</text>
<text transform="translate(91.00,660.64) scale(1,1.041)" font-size="32" text-anchor="end">4</text>
<text transform="translate(91.00,557.18) scale(1,1.041)" font-size="32" text-anchor="end">6</text>
<text transform="translate(131.00,527.40) scale(1,1.041)" font-size="32">ASG2</text>
<g clip-path="url(#c2)" fill="none" stroke-linejoin="round">
<path d="M125.00,1216.14 L132.20,1215.75 L139.40,1215.35 L146.60,1214.95 L153.80,1214.54 L161.00,1214.13 L168.20,1213.71 L175.40,1213.28 L182.60,1212.85 L189.80,1212.40 L197.00,1211.96 L204.20,1211.50 L211.40,1211.04 L218.60,1210.57 L225.80,1210.09 L233.00,1209.61 L240.20,1209.12 L247.40,1208.62 L254.60,1208.11 L261.80,1207.59 L269.00,1207.06 L276.20,1206.53 L283.40,1205.98 L290.60,1205.43 L297.80,1204.86 L305.00,1204.29 L312.20,1203.71 L319.40,1203.11 L326.60,1202.51 L333.80,1201.89 L341.00,1201.26 L348.20,1200.62 L355.40,1199.97 L362.60,1199.31 L369.80,1198.63 L377.00,1197.94 L384.20,1197.24 L391.40,1196.52 L398.60,1195.79 L405.80,1195.04 L413.00,1194.28 L420.20,1193.51 L427.40,1192.71 L434.60,1191.90 L441.80,1191.08 L449.00,1190.23 L456.20,1189.37 L463.40,1188.49 L470.60,1187.58 L477.80,1186.66 L485.00,1185.72 L492.20,1184.75 L499.40,1183.77 L506.60,1182.76 L513.80,1181.72 L521.00,1180.66 L528.20,1179.58 L535.40,1178.47 L542.60,1177.33 L549.80,1176.16 L557.00,1174.96 L564.20,1173.74 L571.40,1172.47 L578.60,1171.18 L585.80,1169.85 L593.00,1168.48 L600.20,1167.08 L607.40,1165.64 L614.60,1164.15 L621.80,1162.63 L629.00,1161.05 L636.20,1159.44 L643.40,1157.77 L650.60,1156.05 L657.80,1154.28 L665.00,1152.45 L672.20,1150.56 L679.40,1148.61 L686.60,1146.60 L693.80,1144.52 L701.00,1142.36 L708.20,1140.14 L715.40,1137.83 L722.60,1135.44 L729.80,1132.96 L737.00,1130.38 L744.20,1127.71 L751.40,1124.94 L758.60,1122.05 L765.80,1119.04 L773.00,1115.92 L780.20,1112.65 L787.40,1109.25 L794.60,1105.70 L801.80,1101.98 L809.00,1098.10 L816.20,1094.03 L823.40,1089.76 L830.60,1085.28 L837.80,1080.57 L845.00,1075.61 L852.20,1070.39 L859.40,1064.88 L866.60,1059.05 L873.80,1052.89 L881.00,1046.35 L888.20,1039.41 L895.40,1032.02 L902.60,1024.14 L909.80,1015.72 L917.00,1006.71 L924.20,997.03 L931.40,986.61 L938.60,975.36 L945.80,963.19 L953.00,949.96 L960.20,935.54 L967.40,919.76 L974.60,902.42 L981.80,883.27 L989.00,862.01" stroke="#000000" stroke-width="3.3"/>
<path d="M125.00,1216.14 L132.20,1215.76 L139.40,1215.37 L146.60,1214.97 L153.80,1214.57 L161.00,1214.16 L168.20,1213.74 L175.40,1213.32 L182.60,1212.90 L189.80,1212.46 L197.00,1212.02 L204.20,1211.57 L211.40,1211.12 L218.60,1210.66 L225.80,1210.19 L233.00,1209.71 L240.20,1209.23 L247.40,1208.74 L254.60,1208.24 L261.80,1207.73 L269.00,1207.21 L276.20,1206.69 L283.40,1206.15 L290.60,1205.61 L297.80,1205.06 L305.00,1204.50 L312.20,1203.92 L319.40,1203.34 L326.60,1202.75 L333.80,1202.15 L341.00,1201.53 L348.20,1200.91 L355.40,1200.27 L362.60,1199.62 L369.80,1198.96 L377.00,1198.29 L384.20,1197.60 L391.40,1196.90 L398.60,1196.19 L405.80,1195.46 L413.00,1194.72 L420.20,1193.96 L427.40,1193.19 L434.60,1192.40 L441.80,1191.59 L449.00,1190.77 L456.20,1189.93 L463.40,1189.07 L470.60,1188.20 L477.80,1187.30 L485.00,1186.39 L492.20,1185.45 L499.40,1184.50 L506.60,1183.52 L513.80,1182.52 L521.00,1181.49 L528.20,1180.44 L535.40,1179.37 L542.60,1178.27 L549.80,1177.14 L557.00,1175.98 L564.20,1174.80 L571.40,1173.58 L578.60,1172.34 L585.80,1171.06 L593.00,1169.74 L600.20,1168.39 L607.40,1167.01 L614.60,1165.58 L621.80,1164.12 L629.00,1162.61 L636.20,1161.06 L643.40,1159.47 L650.60,1157.83 L657.80,1156.13 L665.00,1154.39 L672.20,1152.59 L679.40,1150.74 L686.60,1148.82 L693.80,1146.84 L701.00,1144.80 L708.20,1142.69 L715.40,1140.50 L722.60,1138.24 L729.80,1135.90 L737.00,1133.47 L744.20,1130.95 L751.40,1128.34 L758.60,1125.63 L765.80,1122.81 L773.00,1119.88 L780.20,1116.83 L787.40,1113.66 L794.60,1110.35 L801.80,1106.89 L809.00,1103.29 L816.20,1099.52 L823.40,1095.57 L830.60,1091.44 L837.80,1087.11 L845.00,1082.56 L852.20,1077.78 L859.40,1072.75 L866.60,1067.45 L873.80,1061.85 L881.00,1055.94 L888.20,1049.68 L895.40,1043.05 L902.60,1036.00 L909.80,1028.49 L917.00,1020.50 L924.20,1011.95 L931.40,1002.79 L938.60,992.97 L945.80,982.39 L953.00,970.97 L960.20,958.60 L967.40,945.17 L974.60,930.53 L981.80,914.50 L989.00,896.88" stroke="#ee3ccc" stroke-width="3.3"/>
<path d="M125.00,1216.14 L132.20,1215.76 L139.40,1215.38 L146.60,1214.98 L153.80,1214.59 L161.00,1214.18 L168.20,1213.77 L175.40,1213.36 L182.60,1212.94 L189.80,1212.51 L197.00,1212.07 L204.20,1211.63 L211.40,1211.19 L218.60,1210.73 L225.80,1210.27 L233.00,1209.80 L240.20,1209.32 L247.40,1208.84 L254.60,1208.35 L261.80,1207.85 L269.00,1207.34 L276.20,1206.82 L283.40,1206.30 L290.60,1205.76 L297.80,1205.22 L305.00,1204.67 L312.20,1204.11 L319.40,1203.53 L326.60,1202.95 L333.80,1202.36 L341.00,1201.76 L348.20,1201.14 L355.40,1200.52 L362.60,1199.88 L369.80,1199.23 L377.00,1198.57 L384.20,1197.90 L391.40,1197.22 L398.60,1196.52 L405.80,1195.81 L413.00,1195.08 L420.20,1194.34 L427.40,1193.58 L434.60,1192.81 L441.80,1192.03 L449.00,1191.22 L456.20,1190.40 L463.40,1189.57 L470.60,1188.71 L477.80,1187.84 L485.00,1186.95 L492.20,1186.04 L499.40,1185.11 L506.60,1184.15 L513.80,1183.18 L521.00,1182.18 L528.20,1181.16 L535.40,1180.12 L542.60,1179.05 L549.80,1177.95 L557.00,1176.83 L564.20,1175.68 L571.40,1174.51 L578.60,1173.30 L585.80,1172.06 L593.00,1170.79 L600.20,1169.48 L607.40,1168.14 L614.60,1166.77 L621.80,1165.35 L629.00,1163.90 L636.20,1162.41 L643.40,1160.87 L650.60,1159.29 L657.80,1157.66 L665.00,1155.99 L672.20,1154.26 L679.40,1152.48 L686.60,1150.64 L693.80,1148.75 L701.00,1146.79 L708.20,1144.77 L715.40,1142.69 L722.60,1140.53 L729.80,1138.30 L737.00,1135.98 L744.20,1133.59 L751.40,1131.11 L758.60,1128.54 L765.80,1125.87 L773.00,1123.09 L780.20,1120.21 L787.40,1117.21 L794.60,1114.09 L801.80,1110.84 L809.00,1107.45 L816.20,1103.91 L823.40,1100.22 L830.60,1096.36 L837.80,1092.31 L845.00,1088.08 L852.20,1083.63 L859.40,1078.97 L866.60,1074.06 L873.80,1068.90 L881.00,1063.45 L888.20,1057.70 L895.40,1051.62 L902.60,1045.19 L909.80,1038.36 L917.00,1031.11 L924.20,1023.38 L931.40,1015.14 L938.60,1006.33 L945.80,996.88 L953.00,986.73 L960.20,975.80 L967.40,964.00 L974.60,951.20 L981.80,937.29 L989.00,922.10" stroke="#8030d0" stroke-width="3.3"/>
<path d="M125.00,1216.14 L132.20,1215.77 L139.40,1215.38 L146.60,1214.99 L153.80,1214.60 L161.00,1214.20 L168.20,1213.79 L175.40,1213.38 L182.60,1212.96 L189.80,1212.54 L197.00,1212.11 L204.20,1211.67 L211.40,1211.23 L218.60,1210.78 L225.80,1210.32 L233.00,1209.86 L240.20,1209.39 L247.40,1208.91 L254.60,1208.42 L261.80,1207.93 L269.00,1207.42 L276.20,1206.91 L283.40,1206.39 L290.60,1205.87 L297.80,1205.33 L305.00,1204.78 L312.20,1204.23 L319.40,1203.66 L326.60,1203.09 L333.80,1202.50 L341.00,1201.91 L348.20,1201.30 L355.40,1200.68 L362.60,1200.06 L369.80,1199.42 L377.00,1198.77 L384.20,1198.10 L391.40,1197.43 L398.60,1196.74 L405.80,1196.04 L413.00,1195.32 L420.20,1194.59 L427.40,1193.85 L434.60,1193.09 L441.80,1192.31 L449.00,1191.52 L456.20,1190.72 L463.40,1189.89 L470.60,1189.05 L477.80,1188.20 L485.00,1187.32 L492.20,1186.42 L499.40,1185.51 L506.60,1184.57 L513.80,1183.61 L521.00,1182.64 L528.20,1181.64 L535.40,1180.61 L542.60,1179.56 L549.80,1178.49 L557.00,1177.39 L564.20,1176.26 L571.40,1175.11 L578.60,1173.93 L585.80,1172.72 L593.00,1171.47 L600.20,1170.20 L607.40,1168.89 L614.60,1167.54 L621.80,1166.16 L629.00,1164.74 L636.20,1163.29 L643.40,1161.79 L650.60,1160.25 L657.80,1158.66 L665.00,1157.03 L672.20,1155.35 L679.40,1153.62 L686.60,1151.83 L693.80,1149.99 L701.00,1148.09 L708.20,1146.13 L715.40,1144.10 L722.60,1142.01 L729.80,1139.85 L737.00,1137.61 L744.20,1135.30 L751.40,1132.90 L758.60,1130.41 L765.80,1127.83 L773.00,1125.16 L780.20,1122.38 L787.40,1119.50 L794.60,1116.49 L801.80,1113.37 L809.00,1110.12 L816.20,1106.72 L823.40,1103.19 L830.60,1099.49 L837.80,1095.62 L845.00,1091.58 L852.20,1087.35 L859.40,1082.90 L866.60,1078.24 L873.80,1073.34 L881.00,1068.18 L888.20,1062.74 L895.40,1057.00 L902.60,1050.94 L909.80,1044.51 L917.00,1037.70 L924.20,1030.47 L931.40,1022.76 L938.60,1014.55 L945.80,1005.77 L953.00,996.37 L960.20,986.27 L967.40,975.40 L974.60,963.66 L981.80,950.94 L989.00,937.13" stroke="#46b4f4" stroke-width="3.3"/>
<path d="M125.00,1216.14 L132.20,1215.77 L139.40,1215.40 L146.60,1215.02 L153.80,1214.64 L161.00,1214.25 L168.20,1213.85 L175.40,1213.45 L182.60,1213.04 L189.80,1212.63 L197.00,1212.21 L204.20,1211.79 L211.40,1211.36 L218.60,1210.92 L225.80,1210.48 L233.00,1210.02 L240.20,1209.57 L247.40,1209.10 L254.60,1208.63 L261.80,1208.15 L269.00,1207.66 L276.20,1207.17 L283.40,1206.66 L290.60,1206.15 L297.80,1205.63 L305.00,1205.11 L312.20,1204.57 L319.40,1204.02 L326.60,1203.47 L333.80,1202.91 L341.00,1202.33 L348.20,1201.75 L355.40,1201.15 L362.60,1200.55 L369.80,1199.93 L377.00,1199.31 L384.20,1198.67 L391.40,1198.02 L398.60,1197.36 L405.80,1196.69 L413.00,1196.00 L420.20,1195.30 L427.40,1194.59 L434.60,1193.86 L441.80,1193.12 L449.00,1192.37 L456.20,1191.60 L463.40,1190.81 L470.60,1190.01 L477.80,1189.19 L485.00,1188.36 L492.20,1187.50 L499.40,1186.63 L506.60,1185.74 L513.80,1184.84 L521.00,1183.91 L528.20,1182.96 L535.40,1181.99 L542.60,1181.00 L549.80,1179.98 L557.00,1178.94 L564.20,1177.88 L571.40,1176.80 L578.60,1175.68 L585.80,1174.54 L593.00,1173.37 L600.20,1172.18 L607.40,1170.95 L614.60,1169.69 L621.80,1168.40 L629.00,1167.08 L636.20,1165.72 L643.40,1164.32 L650.60,1162.89 L657.80,1161.41 L665.00,1159.90 L672.20,1158.34 L679.40,1156.74 L686.60,1155.09 L693.80,1153.39 L701.00,1151.64 L708.20,1149.84 L715.40,1147.98 L722.60,1146.06 L729.80,1144.08 L737.00,1142.04 L744.20,1139.93 L751.40,1137.75 L758.60,1135.49 L765.80,1133.16 L773.00,1130.74 L780.20,1128.24 L787.40,1125.65 L794.60,1122.95 L801.80,1120.16 L809.00,1117.26 L816.20,1114.24 L823.40,1111.10 L830.60,1107.83 L837.80,1104.42 L845.00,1100.87 L852.20,1097.16 L859.40,1093.29 L866.60,1089.23 L873.80,1084.99 L881.00,1080.54 L888.20,1075.88 L895.40,1070.97 L902.60,1065.81 L909.80,1060.38 L917.00,1054.65 L924.20,1048.60 L931.40,1042.20 L938.60,1035.41 L945.80,1028.21 L953.00,1020.55 L960.20,1012.39 L967.40,1003.68 L974.60,994.36 L981.80,984.36 L989.00,973.61" stroke="#0abf0a" stroke-width="3.3"/>
<path d="M125.00,1216.14 L132.20,1215.78 L139.40,1215.42 L146.60,1215.04 L153.80,1214.67 L161.00,1214.29 L168.20,1213.90 L175.40,1213.51 L182.60,1213.11 L189.80,1212.71 L197.00,1212.30 L204.20,1211.88 L211.40,1211.46 L218.60,1211.03 L225.80,1210.60 L233.00,1210.16 L240.20,1209.71 L247.40,1209.26 L254.60,1208.80 L261.80,1208.33 L269.00,1207.86 L276.20,1207.38 L283.40,1206.89 L290.60,1206.39 L297.80,1205.89 L305.00,1205.37 L312.20,1204.85 L319.40,1204.32 L326.60,1203.78 L333.80,1203.24 L341.00,1202.68 L348.20,1202.11 L355.40,1201.54 L362.60,1200.95 L369.80,1200.36 L377.00,1199.75 L384.20,1199.13 L391.40,1198.50 L398.60,1197.87 L405.80,1197.21 L413.00,1196.55 L420.20,1195.88 L427.40,1195.19 L434.60,1194.49 L441.80,1193.78 L449.00,1193.05 L456.20,1192.31 L463.40,1191.55 L470.60,1190.78 L477.80,1190.00 L485.00,1189.19 L492.20,1188.38 L499.40,1187.54 L506.60,1186.69 L513.80,1185.82 L521.00,1184.93 L528.20,1184.03 L535.40,1183.10 L542.60,1182.15 L549.80,1181.18 L557.00,1180.19 L564.20,1179.18 L571.40,1178.15 L578.60,1177.09 L585.80,1176.01 L593.00,1174.90 L600.20,1173.76 L607.40,1172.60 L614.60,1171.40 L621.80,1170.18 L629.00,1168.93 L636.20,1167.65 L643.40,1166.33 L650.60,1164.98 L657.80,1163.59 L665.00,1162.17 L672.20,1160.70 L679.40,1159.20 L686.60,1157.65 L693.80,1156.06 L701.00,1154.43 L708.20,1152.75 L715.40,1151.01 L722.60,1149.23 L729.80,1147.39 L737.00,1145.49 L744.20,1143.54 L751.40,1141.52 L758.60,1139.44 L765.80,1137.28 L773.00,1135.06 L780.20,1132.76 L787.40,1130.38 L794.60,1127.91 L801.80,1125.36 L809.00,1122.71 L816.20,1119.96 L823.40,1117.11 L830.60,1114.15 L837.80,1111.07 L845.00,1107.87 L852.20,1104.53 L859.40,1101.06 L866.60,1097.43 L873.80,1093.65 L881.00,1089.70 L888.20,1085.56 L895.40,1081.23 L902.60,1076.70 L909.80,1071.93 L917.00,1066.93 L924.20,1061.67 L931.40,1056.13 L938.60,1050.28 L945.80,1044.11 L953.00,1037.58 L960.20,1030.66 L967.40,1023.31 L974.60,1015.50 L981.80,1007.18 L989.00,998.29" stroke="#c04000" stroke-width="3.3"/>
<path d="M125.00,1216.14 L132.20,1215.79 L139.40,1215.43 L146.60,1215.07 L153.80,1214.71 L161.00,1214.34 L168.20,1213.96 L175.40,1213.58 L182.60,1213.19 L189.80,1212.80 L197.00,1212.40 L204.20,1212.00 L211.40,1211.59 L218.60,1211.18 L225.80,1210.76 L233.00,1210.33 L240.20,1209.90 L247.40,1209.46 L254.60,1209.02 L261.80,1208.56 L269.00,1208.11 L276.20,1207.64 L283.40,1207.17 L290.60,1206.69 L297.80,1206.20 L305.00,1205.71 L312.20,1205.20 L319.40,1204.69 L326.60,1204.17 L333.80,1203.65 L341.00,1203.11 L348.20,1202.57 L355.40,1202.01 L362.60,1201.45 L369.80,1200.88 L377.00,1200.30 L384.20,1199.71 L391.40,1199.10 L398.60,1198.49 L405.80,1197.87 L413.00,1197.24 L420.20,1196.59 L427.40,1195.93 L434.60,1195.27 L441.80,1194.59 L449.00,1193.89 L456.20,1193.19 L463.40,1192.47 L470.60,1191.73 L477.80,1190.99 L485.00,1190.23 L492.20,1189.45 L499.40,1188.66 L506.60,1187.85 L513.80,1187.03 L521.00,1186.19 L528.20,1185.33 L535.40,1184.46 L542.60,1183.56 L549.80,1182.65 L557.00,1181.72 L564.20,1180.77 L571.40,1179.79 L578.60,1178.80 L585.80,1177.78 L593.00,1176.74 L600.20,1175.68 L607.40,1174.59 L614.60,1173.48 L621.80,1172.34 L629.00,1171.17 L636.20,1169.98 L643.40,1168.75 L650.60,1167.50 L657.80,1166.21 L665.00,1164.89 L672.20,1163.54 L679.40,1162.15 L686.60,1160.72 L693.80,1159.26 L701.00,1157.76 L708.20,1156.21 L715.40,1154.62 L722.60,1152.99 L729.80,1151.31 L737.00,1149.58 L744.20,1147.80 L751.40,1145.97 L758.60,1144.08 L765.80,1142.13 L773.00,1140.12 L780.20,1138.04 L787.40,1135.90 L794.60,1133.69 L801.80,1131.40 L809.00,1129.04 L816.20,1126.59 L823.40,1124.06 L830.60,1121.43 L837.80,1118.71 L845.00,1115.89 L852.20,1112.96 L859.40,1109.91 L866.60,1106.75 L873.80,1103.45 L881.00,1100.02 L888.20,1096.45 L895.40,1092.73 L902.60,1088.84 L909.80,1084.77 L917.00,1080.52 L924.20,1076.07 L931.40,1071.40 L938.60,1066.51 L945.80,1061.36 L953.00,1055.95 L960.20,1050.25 L967.40,1044.24 L974.60,1037.89 L981.80,1031.17 L989.00,1024.05" stroke="#e00000" stroke-width="3.3"/>
<path d="M125.00,1216.14 L128.76,1215.91 L132.52,1215.67 L136.28,1215.43 L140.03,1215.19 L143.79,1214.95 L147.55,1214.70 L151.31,1214.46 L155.07,1214.21 L158.83,1213.96 L162.58,1213.70 L166.34,1213.45 L170.10,1213.19 L173.86,1212.93 L177.62,1212.66 L181.38,1212.40 L185.13,1212.13 L188.89,1211.86 L192.65,1211.58 L196.41,1211.31 L200.17,1211.03 L203.93,1210.75 L207.68,1210.46 L211.44,1210.18 L215.20,1209.89 L218.96,1209.60 L222.72,1209.30 L226.48,1209.00 L230.24,1208.70 L233.99,1208.40 L237.75,1208.09 L241.51,1207.78 L245.27,1207.47 L249.03,1207.15 L252.79,1206.83 L256.54,1206.51 L260.30,1206.18 L264.06,1205.85 L267.82,1205.52 L271.58,1205.18 L275.34,1204.84 L279.09,1204.50 L282.85,1204.15 L286.61,1203.80 L290.37,1203.44 L294.13,1203.08 L297.89,1202.72 L301.64,1202.35 L305.40,1201.98 L309.16,1201.61 L312.92,1201.23 L316.68,1200.85 L320.44,1200.46 L324.20,1200.07 L327.95,1199.67 L331.71,1199.27 L335.47,1198.86 L339.23,1198.45 L342.99,1198.04 L346.75,1197.62 L350.50,1197.19 L354.26,1196.76 L358.02,1196.33 L361.78,1195.89 L365.54,1195.44 L369.30,1194.99 L373.05,1194.53 L376.81,1194.07 L380.57,1193.60 L384.33,1193.13 L388.09,1192.65 L391.85,1192.17 L395.60,1191.67 L399.36,1191.18 L403.12,1190.67 L406.88,1190.16 L410.64,1189.64 L414.40,1189.12 L418.16,1188.59 L421.91,1188.05 L425.67,1187.50 L429.43,1186.95 L433.19,1186.39 L436.95,1185.82 L440.71,1185.25 L444.46,1184.66 L448.22,1184.07 L451.98,1183.47 L455.74,1182.86 L459.50,1182.25 L463.26,1181.62 L467.01,1180.99 L470.77,1180.34 L474.53,1179.69 L478.29,1179.02 L482.05,1178.35 L485.81,1177.67 L489.56,1176.98 L493.32,1176.27 L497.08,1175.56 L500.84,1174.83 L504.60,1174.09 L508.36,1173.35 L512.12,1172.59 L515.87,1171.81 L519.63,1171.03 L523.39,1170.23 L527.15,1169.42 L530.91,1168.60 L534.67,1167.76 L538.42,1166.91 L542.18,1166.04 L545.94,1165.16 L549.70,1164.27 L553.46,1163.36 L557.22,1162.43 L560.97,1161.49 L564.73,1160.53 L568.49,1159.55 L572.25,1158.56 L576.01,1157.55 L579.77,1156.52 L583.52,1155.47 L587.28,1154.40 L591.04,1153.31 L594.80,1152.20 L598.56,1151.06 L602.32,1149.91 L606.08,1148.73 L609.83,1147.53 L613.59,1146.31 L617.35,1145.06 L621.11,1143.79 L624.87,1142.48 L628.63,1141.16 L632.38,1139.80 L636.14,1138.42 L639.90,1137.00 L643.66,1135.56 L647.42,1134.08 L651.18,1132.57 L654.93,1131.03 L658.69,1129.45 L662.45,1127.83 L666.21,1126.18 L669.97,1124.49 L673.73,1122.75 L677.48,1120.98 L681.24,1119.16 L685.00,1117.30 L688.76,1115.39 L692.52,1113.43 L696.28,1111.43 L700.04,1109.37 L703.79,1107.25 L707.55,1105.08 L711.31,1102.85 L715.07,1100.56 L718.83,1098.21 L722.59,1095.79 L726.34,1093.30 L730.10,1090.73 L733.86,1088.10 L737.62,1085.38 L741.38,1082.58 L745.14,1079.69 L748.89,1076.72 L752.65,1073.65 L756.41,1070.48 L760.17,1067.21 L763.93,1063.82 L767.69,1060.32 L771.44,1056.71 L775.20,1052.96 L778.96,1049.08 L782.72,1045.06 L786.48,1040.89 L790.24,1036.56 L794.00,1032.06 L797.75,1027.39 L801.51,1022.53 L805.27,1017.47 L809.03,1012.20 L812.79,1006.71 L816.55,1000.98 L820.30,994.99 L824.06,988.73 L827.82,982.17 L831.58,975.30 L835.34,968.10 L839.10,960.54 L842.85,952.58 L846.61,944.21 L850.37,935.38 L854.13,926.06 L857.89,916.21 L861.65,905.78 L865.40,894.71 L869.16,882.94 L872.92,870.42" stroke="#8c8c8c" stroke-width="5" stroke-dasharray="19.5 7.5 4.5 7.5 4.5 7"/>
</g>
<g stroke="#000" stroke-width="3" fill="none" stroke-linecap="butt">
<path d="M113,894.20H125.0V1269.80H102" stroke-linejoin="miter"/>
<line x1="102" y1="1162.49" x2="125.0" y2="1162.49"/>
<line x1="102" y1="1055.17" x2="125.0" y2="1055.17"/>
<line x1="102" y1="947.86" x2="125.0" y2="947.86"/>
<line x1="113" y1="1216.14" x2="125.0" y2="1216.14"/>
<line x1="113" y1="1108.83" x2="125.0" y2="1108.83"/>
<line x1="113" y1="1001.51" x2="125.0" y2="1001.51"/>
</g>
<text transform="translate(91.00,1280.65) scale(1,1.041)" font-size="32" text-anchor="end">0</text>
<text transform="translate(91.00,1173.34) scale(1,1.041)" font-size="32" text-anchor="end">2</text>
<text transform="translate(91.00,1066.02) scale(1,1.041)" font-size="32" text-anchor="end">4</text>
<text transform="translate(91.00,958.71) scale(1,1.041)" font-size="32" text-anchor="end">6</text>
<text transform="translate(138.00,924.20) scale(1,1.041)" font-size="32">ASG </text><path transform="translate(205.58,924.20) scale(0.015625,-0.016266)" d="M760 0L612 0L612 1110Q420 995 223 928L223 1060Q390 1132 510 1240Q610 1340 655 1430L760 1430Z" fill="#000"/>
<g stroke="#000" stroke-width="3" fill="none">
<path d="M125.0,1299.20V1276.7H989.0V1299.20" stroke-linejoin="miter"/>
<line x1="211.40" y1="1275.2" x2="211.40" y2="1288.20"/>
<line x1="297.80" y1="1275.2" x2="297.80" y2="1299.20"/>
<line x1="384.20" y1="1275.2" x2="384.20" y2="1288.20"/>
<line x1="470.60" y1="1275.2" x2="470.60" y2="1299.20"/>
<line x1="557.00" y1="1275.2" x2="557.00" y2="1288.20"/>
<line x1="643.40" y1="1275.2" x2="643.40" y2="1299.20"/>
<line x1="729.80" y1="1275.2" x2="729.80" y2="1288.20"/>
<line x1="816.20" y1="1275.2" x2="816.20" y2="1299.20"/>
<line x1="902.60" y1="1275.2" x2="902.60" y2="1288.20"/>
</g>
<text transform="translate(124.30,1341.30) scale(1,1.041)" font-size="32" text-anchor="middle">0.0</text>
<text transform="translate(297.10,1341.30) scale(1,1.041)" font-size="32" text-anchor="middle">0.2</text>
<text transform="translate(469.90,1341.30) scale(1,1.041)" font-size="32" text-anchor="middle">0.4</text>
<text transform="translate(642.70,1341.30) scale(1,1.041)" font-size="32" text-anchor="middle">0.6</text>
<text transform="translate(815.50,1341.30) scale(1,1.041)" font-size="32" text-anchor="middle">0.8</text>
<text transform="translate(988.30,1341.30) scale(1,1.041)" font-size="32" text-anchor="middle"> .0</text><path transform="translate(966.06,1341.30) scale(0.015625,-0.016266)" d="M760 0L612 0L612 1110Q420 995 223 928L223 1060Q390 1132 510 1240Q610 1340 655 1430L760 1430Z" fill="#000"/>
<text transform="translate(527.00,1385.15) scale(1,1.041)" font-size="32">SF</text>
<text transform="translate(568.80,1393.50) scale(1,1.041)" font-size="21">in</text>
<text transform="translate(28.8,583) rotate(-90) scale(1,1.041)" font-size="32" text-anchor="middle">Contrast improvement factor (Kc)</text>
<text transform="translate(420.00,48.75) scale(1,1.041)" font-size="32">Voltage [kV]</text>
<text transform="translate(420.00,87.00) scale(1,1.041)" font-size="32">60</text>
<line x1="461" y1="76.80" x2="524" y2="76.80" stroke="#000000" stroke-width="3.4"/>
<text transform="translate(420.00,124.30) scale(1,1.041)" font-size="32">8 </text><path transform="translate(437.80,124.30) scale(0.015625,-0.016266)" d="M760 0L612 0L612 1110Q420 995 223 928L223 1060Q390 1132 510 1240Q610 1340 655 1430L760 1430Z" fill="#000"/>
<line x1="461" y1="114.10" x2="524" y2="114.10" stroke="#8030d0" stroke-width="3.4"/>
<text transform="translate(420.00,161.60) scale(1,1.041)" font-size="32"> 00</text><path transform="translate(420.00,161.60) scale(0.015625,-0.016266)" d="M760 0L612 0L612 1110Q420 995 223 928L223 1060Q390 1132 510 1240Q610 1340 655 1430L760 1430Z" fill="#000"/>
<line x1="478" y1="151.40" x2="541" y2="151.40" stroke="#0abf0a" stroke-width="3.4"/>
<text transform="translate(420.00,198.90) scale(1,1.041)" font-size="32"> 2 </text><path transform="translate(420.00,198.90) scale(0.015625,-0.016266)" d="M760 0L612 0L612 1110Q420 995 223 928L223 1060Q390 1132 510 1240Q610 1340 655 1430L760 1430Z" fill="#000"/><path transform="translate(455.59,198.90) scale(0.015625,-0.016266)" d="M760 0L612 0L612 1110Q420 995 223 928L223 1060Q390 1132 510 1240Q610 1340 655 1430L760 1430Z" fill="#000"/>
<line x1="478" y1="188.70" x2="541" y2="188.70" stroke="#e00000" stroke-width="3.4"/>
<text transform="translate(566.00,87.00) scale(1,1.041)" font-size="32">70</text>
<line x1="606" y1="76.80" x2="669.5" y2="76.80" stroke="#ee3ccc" stroke-width="3.4"/>
<text transform="translate(566.00,124.30) scale(1,1.041)" font-size="32">90</text>
<line x1="606" y1="114.10" x2="669.5" y2="114.10" stroke="#46b4f4" stroke-width="3.4"/>
<text transform="translate(566.00,161.60) scale(1,1.041)" font-size="32"> 09</text><path transform="translate(566.00,161.60) scale(0.015625,-0.016266)" d="M760 0L612 0L612 1110Q420 995 223 928L223 1060Q390 1132 510 1240Q610 1340 655 1430L760 1430Z" fill="#000"/>
<line x1="622.7" y1="151.40" x2="685.8" y2="151.40" stroke="#c04000" stroke-width="3.4"/>
</svg></body></html>
